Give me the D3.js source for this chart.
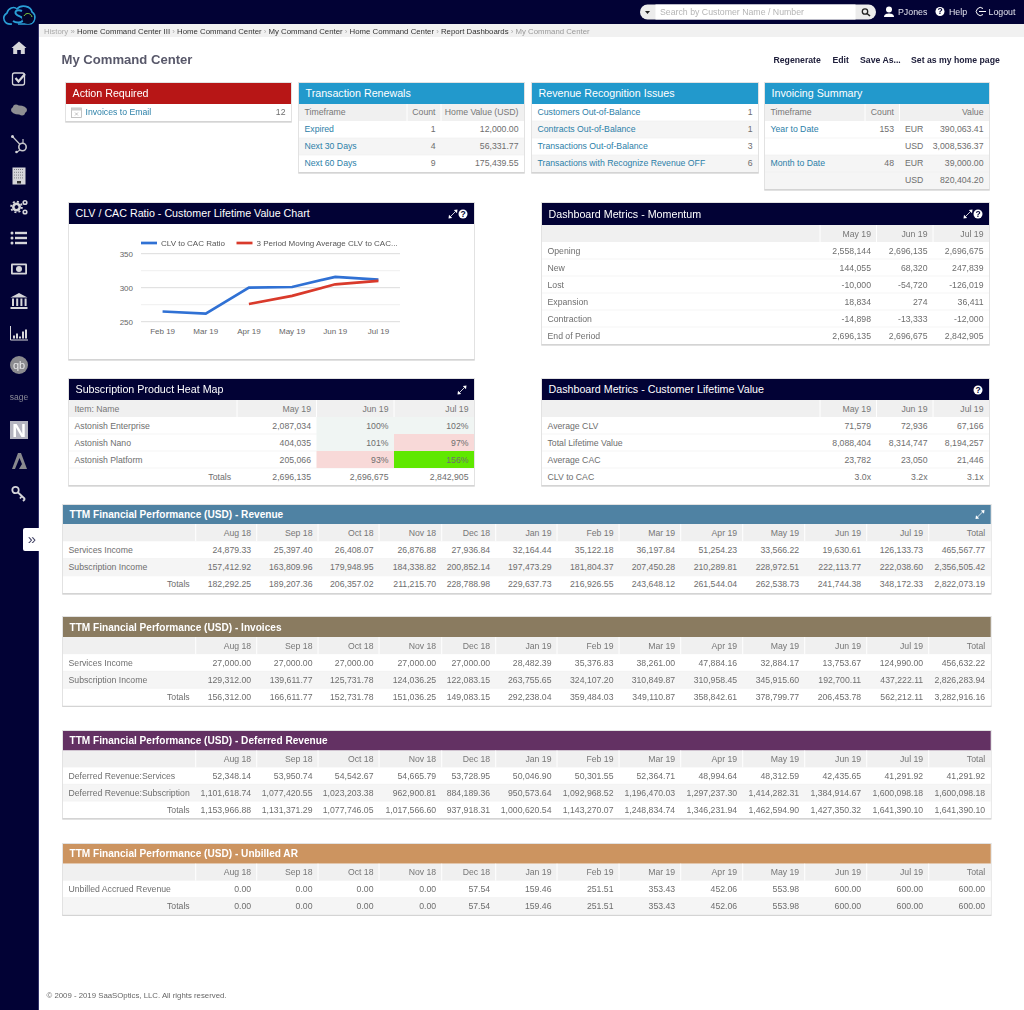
<!DOCTYPE html>
<html>
<head>
<meta charset="utf-8">
<title>My Command Center</title>
<script src="https://d3js.org/d3.v7.min.js"></script>
<style>
html, body { margin: 0; padding: 0; background: #fff; }
svg { display: block; font-family: "Liberation Sans", Arial, sans-serif; filter: blur(0.35px); }
</style>
</head>
<body>
<div id="page"></div>
<script>
// ---- data ----
var breadcrumb = ["Home Command Center III", "Home Command Center", "My Command Center", "Home Command Center", "Report Dashboards"];
var pageActions = ["Regenerate", "Edit", "Save As...", "Set as my home page"];

var renewalRows = ["Expired", "Next 30 Days", "Next 60 Days"];
var renewalCounts = [1, 4, 9];
var renewalValues = [12000.00, 56331.77, 175439.55];

var issueRows = ["Customers Out-of-Balance", "Contracts Out-of-Balance", "Transactions Out-of-Balance", "Transactions with Recognize Revenue OFF"];
var issueCounts = [1, 1, 3, 6];

var invoicingRows = ["Year to Date", "", "Month to Date", ""];
var invoicingCounts = [153, null, 48, null];
var invoicingCurrency = ["EUR", "USD", "EUR", "USD"];
var invoicingValues = [390063.41, 3008536.37, 39000.00, 820404.20];

var chartMonths = ["Feb 19", "Mar 19", "Apr 19", "May 19", "Jun 19", "Jul 19"];
var clvRatio = [265, 262, 300, 301, 316, 312];
var clvMoving = [null, null, 276, 288, 305, 310];
var chartLabels = ["CLV to CAC Ratio", "3 Period Moving Average CLV to CAC..."];
var chartTicks = [250, 300, 350];
var chartGrid = [250, 275, 300, 325, 350];

var quarter = ["May 19", "Jun 19", "Jul 19"];
var momentumRows = ["Opening", "New", "Lost", "Expansion", "Contraction", "End of Period"];
var momentumMay = [2558144, 144055, -10000, 18834, -14898, 2696135];
var momentumJun = [2696135, 68320, -54720, 274, -13333, 2696675];
var momentumJul = [2696675, 247839, -126019, 36411, -12000, 2842905];

var heatRows = ["Astonish Enterprise", "Astonish Nano", "Astonish Platform", "Totals"];
var heatMay = [2087034, 404035, 205066, 2696135];
var heatJunPct = [100, 101, 93];
var heatJulPct = [102, 97, 156];
var heatTotals = [2696675, 2842905];

var lifetimeRows = ["Average CLV", "Total Lifetime Value", "Average CAC", "CLV to CAC"];
var lifetimeMay = ["71,579", "8,088,404", "23,782", "3.0x"];
var lifetimeJun = ["72,936", "8,314,747", "23,050", "3.2x"];
var lifetimeJul = ["67,166", "8,194,257", "21,446", "3.1x"];

var ttmColumns = ["Aug 18", "Sep 18", "Oct 18", "Nov 18", "Dec 18", "Jan 19", "Feb 19", "Mar 19", "Apr 19", "May 19", "Jun 19", "Jul 19", "Total"];

var revenueServices = [24879.33, 25397.40, 26408.07, 26876.88, 27936.84, 32164.44, 35122.18, 36197.84, 51254.23, 33566.22, 19630.61, 126133.73, 465567.77];
var revenueSubscription = [157412.92, 163809.96, 179948.95, 184338.82, 200852.14, 197473.29, 181804.37, 207450.28, 210289.81, 228972.51, 222113.77, 222038.60, 2356505.42];
var revenueTotals = [182292.25, 189207.36, 206357.02, 211215.70, 228788.98, 229637.73, 216926.55, 243648.12, 261544.04, 262538.73, 241744.38, 348172.33, 2822073.19];

var invoiceServices = [27000, 27000, 27000, 27000, 27000, 28482.39, 35376.83, 38261.00, 47884.16, 32884.17, 13753.67, 124990.00, 456632.22];
var invoiceSubscription = [129312.00, 139611.77, 125731.78, 124036.25, 122083.15, 263755.65, 324107.20, 310849.87, 310958.45, 345915.60, 192700.11, 437222.11, 2826283.94];
var invoiceTotals = [156312.00, 166611.77, 152731.78, 151036.25, 149083.15, 292238.04, 359484.03, 349110.87, 358842.61, 378799.77, 206453.78, 562212.11, 3282916.16];

var deferredServices = [52348.14, 53950.74, 54542.67, 54665.79, 53728.95, 50046.90, 50301.55, 52364.71, 48994.64, 48312.59, 42435.65, 41291.92, 41291.92];
var deferredSubscription = [1101618.74, 1077420.55, 1023203.38, 962900.81, 884189.36, 950573.64, 1092968.52, 1196470.03, 1297237.30, 1414282.31, 1384914.67, 1600098.18, 1600098.18];
var deferredTotals = [1153966.88, 1131371.29, 1077746.05, 1017566.60, 937918.31, 1000620.54, 1143270.07, 1248834.74, 1346231.94, 1462594.90, 1427350.32, 1641390.10, 1641390.10];

var unbilledAccrued = [0, 0, 0, 0, 57.54, 159.46, 251.51, 353.43, 452.06, 553.98, 600, 600, 600];
var unbilledTotals = [0, 0, 0, 0, 57.54, 159.46, 251.51, 353.43, 452.06, 553.98, 600, 600, 600];

// ---- look ----
var navy = "#020235", blue = "#2299cc", red = "#b71616";
var textGray = "#6e6e6e", linkBlue = "#2c80a8", stripe = "#f5f5f5", headBg = "#f0f0f0";
var cellSize = 8.7;

var locale = d3.formatLocale({decimal: ".", thousands: ",", grouping: [3], currency: ["$", ""], minus: "-"});
var money = locale.format(",.2f");
var whole = locale.format(",d");
var pct = d => d + "%";

var svg = d3.select("#page").append("svg").attr("width", 1024).attr("height", 1010);
var page = svg.append("g");

function label(g, x, y, str, size, color, anchor, weight) {
	return g.append("text")
		.attr("x", x).attr("y", y).attr("dy", "0.35em")
		.attr("font-size", size)
		.attr("fill", color)
		.attr("text-anchor", anchor || "start")
		.attr("font-weight", weight || "normal")
		.text(str);
}

function expandIcon(g, cx, cy) {
	var a = g.append("g").attr("transform", `translate(${cx},${cy})`);
	a.append("path").attr("stroke", "#fff").attr("stroke-width", 0.8).attr("d", "M-2.5,2.5L2.5,-2.5");
	a.append("path").attr("fill", "#fff").attr("d", "M4.5,-4.5L0.8,-4L4,-0.8ZM-4.5,4.5L-0.8,4L-4,0.8Z");
}

function helpIcon(g, cx, cy) {
	g.append("circle").attr("cx", cx).attr("cy", cy).attr("r", 4.5).attr("fill", "#fff");
	label(g, cx, cy, "?", 8.5, navy, "middle", "bold");
}

// header band plus outer frame of one panel
function panel(x0, x1, y0, y1, y2, color, title, size, weight) {
	var g = page.append("g");
	g.append("rect").attr("x", x0 - 0.5).attr("y", y0 - 0.5).attr("width", x1 - x0 + 1).attr("height", y2 - y0 + 1.5)
		.attr("fill", "#fff").attr("stroke", "#e2e2e2");
	g.append("line").attr("x1", x0 - 0.5).attr("x2", x1 + 0.5).attr("y1", y2 + 0.7).attr("y2", y2 + 0.7)
		.attr("stroke", "#d4d4d4").attr("stroke-width", 1.4);
	g.append("rect").attr("x", x0).attr("y", y0).attr("width", x1 - x0).attr("height", y1 - y0).attr("fill", color);
	label(g, x0 + 6.5, (y0 + y1) / 2, title, size || 10.7, "#fff", "start", weight);
	return g;
}

// o: edges, top, bottom, head, rows, aligns, links, striped, noSep, leftPad, textShift
function table(g, o) {
	var rowCount = o.rows.length + (o.head ? 1 : 0);
	var rowY = d3.scaleLinear().domain([0, rowCount]).range([o.top, o.bottom]);
	var colX = i => o.edges[i];
	var first = o.head ? 1 : 0;
	var pad = 5.5;
	var shift = o.textShift || 0;

	g.selectAll(null).data(o.rows).join("rect")
		.attr("x", o.edges[0]).attr("width", o.edges[o.edges.length - 1] - o.edges[0])
		.attr("y", (d, i) => rowY(i + first)).attr("height", (d, i) => rowY(i + first + 1) - rowY(i + first))
		.attr("fill", (d, i) => o.striped && o.striped(i) ? stripe : "#fff");

	g.selectAll(null).data(o.rows.slice(1)).join("line")
		.attr("x1", o.edges[0]).attr("x2", o.edges[o.edges.length - 1])
		.attr("y1", (d, i) => rowY(i + first + 1)).attr("y2", (d, i) => rowY(i + first + 1))
		.attr("stroke", "#f0f0f0").attr("stroke-width", 0.7);

	if (o.fills) {
		o.fills.forEach(f => g.append("rect")
			.attr("x", colX(f.col)).attr("width", colX(f.col + 1) - colX(f.col))
			.attr("y", rowY(f.row + first)).attr("height", rowY(f.row + first + 1) - rowY(f.row + first))
			.attr("fill", f.color));
	}

	function cell(str, c, y, color) {
		if (str === null || str === "") return;
		var align = o.aligns ? o.aligns[c] : (c == 0 ? "l" : "r");
		if (align == "l") label(g, colX(c) + (c == 0 && o.leftPad ? o.leftPad : 5.5), y + shift, str, cellSize, color);
		else label(g, colX(c + 1) - pad, y + shift, str, cellSize, color, "end");
	}

	if (o.head) {
		g.append("rect").attr("x", o.edges[0]).attr("y", rowY(0))
			.attr("width", o.edges[o.edges.length - 1] - o.edges[0]).attr("height", rowY(1) - rowY(0))
			.attr("fill", headBg);
		o.edges.slice(1, -1).forEach(e => {
			if (o.noSep && o.noSep.includes(e)) return;
			g.append("line").attr("x1", e).attr("x2", e).attr("y1", rowY(0)).attr("y2", rowY(1))
				.attr("stroke", "#fff").attr("stroke-width", 1);
		});
		o.head.forEach((h, c) => cell(h, c, (rowY(0) + rowY(1)) / 2, "#777"));
	}

	o.rows.forEach((row, r) => {
		var y = (rowY(r + first) + rowY(r + first + 1)) / 2;
		row.forEach((v, c) => {
			if (c == 0 && v == "Totals") {
				label(g, colX(1) - 6, y + shift, v, cellSize, textGray, "end");
			} else {
				cell(v, c, y, o.links && c == 0 ? linkBlue : textGray);
			}
		});
	});
}

// ---- chrome ----
page.append("rect").attr("width", 1024).attr("height", 24).attr("fill", navy);
page.append("rect").attr("width", 38.5).attr("height", 1010).attr("fill", navy);
page.append("rect").attr("x", 38.5).attr("y", 24).attr("width", 985.5).attr("height", 13).attr("fill", "#f1f1f1");
page.append("line").attr("x1", 38.5).attr("x2", 38.5).attr("y1", 24).attr("y2", 1010).attr("stroke", "#33336a");

var crumb = page.append("text").attr("x", 44).attr("y", 31).attr("dy", "0.35em").attr("font-size", 7.8).attr("fill", "#333");
crumb.append("tspan").attr("fill", "#aaa").text("History ");
crumb.append("tspan").attr("fill", "#aaa").text("» ");
breadcrumb.forEach(b => {
	crumb.append("tspan").text(b);
	crumb.append("tspan").attr("fill", "#aaa").text(" › ");
});
crumb.append("tspan").attr("fill", "#999").text("My Command Center");

// logo
var logo = page.append("g").attr("fill", "none").attr("stroke", "#2a9fd6").attr("stroke-width", 1.6);
logo.append("path").attr("d", "M12,24 C4,25 1,17 7,13 C8,8 14,6 17,9 C21,4 31,6 32,12 C37,15 35,24 29,24 L18,24");
logo.append("path").attr("d", "M22,11 C18,9 14,11 16,14 C18,17 24,16 23,20 C22,23 16,23 13,21").attr("stroke-width", 2);
logo.append("circle").attr("cx", 28).attr("cy", 18).attr("r", 6).attr("fill", "#05052a").attr("stroke", "none");
logo.append("path").attr("d", "M24,16 C26,12 31,13 32,17").attr("stroke", "#7fd040").attr("stroke-width", 1);

// search box
var search = page.append("g");
search.append("rect").attr("x", 640).attr("y", 4.5).attr("width", 236).attr("height", 15).attr("rx", 7.5).attr("fill", "#ececec");
search.append("rect").attr("x", 655.5).attr("y", 4.5).attr("width", 200).attr("height", 15).attr("fill", "#fff");
search.append("path").attr("fill", "#222").attr("d", "M645,11L650,11L647.5,14Z");
label(search, 660, 12.3, "Search by Customer Name / Number", 8.75, "#b5b5b5");
search.append("circle").attr("cx", 865).attr("cy", 11.5).attr("r", 2.7).attr("fill", "none").attr("stroke", "#222").attr("stroke-width", 1.3);
search.append("path").attr("stroke", "#222").attr("stroke-width", 1.6).attr("d", "M867,13.5L870,16");

var user = page.append("g");
user.append("circle").attr("cx", 889).attr("cy", 9.5).attr("r", 3).attr("fill", "#fff");
user.append("path").attr("fill", "#fff").attr("d", "M884,17L894,17C894,14 891,13.5 889,13.5C887,13.5 884,14 884,17Z");
label(user, 898, 11.5, "PJones", 8.8, "#e4e4ee");
helpIcon(user, 940, 11.5);
label(user, 949, 11.5, "Help", 8.8, "#e4e4ee");
user.append("path").attr("fill", "none").attr("stroke", "#fff").attr("stroke-width", 1)
	.attr("d", "M983,8.5A4,4 0 1 0 983,14.5M979,11.5L986,11.5");
label(user, 988.5, 11.5, "Logout", 8.8, "#e4e4ee");

label(page, 61.5, 59.5, "My Command Center", 13.1, "#58586a", "start", "bold");
var actionX = d3.scaleOrdinal().domain(pageActions).range([773.5, 832.5, 860, 911]);
pageActions.forEach(a => label(page, actionX(a), 59.5, a, 8.7, "#20203c", "start", "bold"));

// ---- sidebar icons ----
var side = page.append("g").attr("fill", "#d6d6da");
function icon(y) { return side.append("g").attr("transform", `translate(19,${y})`); }

icon(48).append("path").attr("d", "M-7.5,0L0,-6.5L7.5,0L5.8,0L5.8,6L1.8,6L1.8,2L-1.8,2L-1.8,6L-5.8,6L-5.8,0Z");
var chk = icon(79);
chk.append("rect").attr("x", -6.5).attr("y", -6).attr("width", 12).attr("height", 12).attr("rx", 2).attr("fill", "none").attr("stroke", "#d6d6da").attr("stroke-width", 1.3);
chk.append("path").attr("fill", "none").attr("stroke", "#d6d6da").attr("stroke-width", 2.2).attr("d", "M-3.5,-1L-0.5,2.5L6,-5");
var sf = icon(110).attr("fill", "#8f8f93");
sf.append("ellipse").attr("rx", 8).attr("ry", 4.5);
sf.append("circle").attr("cx", -3).attr("cy", -2.5).attr("r", 3);
sf.append("circle").attr("cx", 3).attr("cy", 2.5).attr("r", 3);
var hub = icon(145);
hub.append("circle").attr("cx", 3.5).attr("cy", 2).attr("r", 3.7).attr("fill", "none").attr("stroke", "#c6c6ca").attr("stroke-width", 1.6);
hub.append("path").attr("fill", "none").attr("stroke", "#c6c6ca").attr("stroke-width", 1.2).attr("d", "M1,-0.5L-6,-8M1,5L-2,7M4,-2L4,-6");
hub.append("circle").attr("cx", -6.5).attr("cy", -8.5).attr("r", 1.5);
hub.append("circle").attr("cx", -2.5).attr("cy", 7).attr("r", 1.3);
var bld = icon(176);
bld.append("rect").attr("x", -6.5).attr("y", -8.5).attr("width", 13).attr("height", 17);
bld.selectAll(null).data(d3.range(4)).join("line")
	.attr("x1", -5).attr("x2", 5).attr("y1", d => -6.5 + d * 2.8).attr("y2", d => -6.5 + d * 2.8)
	.attr("stroke", "#808086").attr("stroke-width", 1).attr("stroke-dasharray", "1 1");
bld.append("rect").attr("x", -2).attr("y", 5).attr("width", 4).attr("height", 2.5).attr("fill", "#333");
var gr = icon(207).attr("fill", "none").attr("stroke", "#d6d6da");
gr.append("circle").attr("cx", -2.5).attr("cy", 0).attr("r", 3.2).attr("stroke-width", 2.6);
gr.append("circle").attr("cx", -2.5).attr("cy", 0).attr("r", 5.4).attr("stroke-width", 1.8).attr("stroke-dasharray", "2 2.2");
gr.append("circle").attr("cx", 6).attr("cy", -4.5).attr("r", 1.8).attr("stroke-width", 1.6);
gr.append("circle").attr("cx", 6).attr("cy", 5).attr("r", 1.8).attr("stroke-width", 1.6);
var lst = icon(238);
d3.range(3).forEach(i => {
	lst.append("circle").attr("cx", -7).attr("cy", -5 + i * 5).attr("r", 1.5);
	lst.append("rect").attr("x", -4).attr("y", -6.2 + i * 5).attr("width", 12).attr("height", 2.4);
});
var bill = icon(269);
bill.append("rect").attr("x", -8).attr("y", -5.5).attr("width", 16).attr("height", 11).attr("rx", 1);
bill.append("rect").attr("x", -6.2).attr("y", -3.7).attr("width", 12.4).attr("height", 7.4).attr("fill", navy);
bill.append("circle").attr("r", 3).attr("fill", "#d6d6da");
var bank = icon(301);
bank.append("path").attr("d", "M-8.5,-3.5L0,-8L8.5,-3.5Z");
d3.range(4).forEach(i => bank.append("rect").attr("x", -7 + i * 4.2).attr("y", -2.5).attr("width", 2).attr("height", 7.5));
bank.append("rect").attr("x", -8.5).attr("y", 6).attr("width", 17).attr("height", 2);
var bars = icon(333);
bars.append("path").attr("fill", "none").attr("stroke", "#d6d6da").attr("d", "M-8.5,-7L-8.5,7L9,7");
[[-6, 3], [-3, 5], [0, 2], [3, 7], [6, 9]].forEach(b => bars.append("rect").attr("x", b[0]).attr("y", 5.5 - b[1]).attr("width", 2).attr("height", b[1]));
var qb = icon(365);
qb.append("circle").attr("r", 9).attr("fill", "#8b8b8f");
label(qb, 0, 0, "qb", 11, "#e8e8ea", "middle");
label(icon(397), 0, 0, "sage", 8.5, "#8a8a96", "middle");
var nBox = icon(430);
nBox.append("rect").attr("x", -9).attr("y", -9).attr("width", 18).attr("height", 18).attr("fill", "#b4b4c0");
label(nBox, 0, 0.5, "N", 19, "#fff", "middle", "bold");
icon(461).attr("fill", "#8a8a8e").append("path").attr("d", "M-7,8L-1,-8L2,-8L8,8L5,8L0.5,-3L-4,8ZM0,8L3,3L5,8Z");
var key = icon(493);
key.append("circle").attr("cx", -3.5).attr("cy", -3).attr("r", 3.2).attr("fill", "none").attr("stroke", "#d6d6da").attr("stroke-width", 1.8);
key.append("path").attr("fill", "none").attr("stroke", "#d6d6da").attr("stroke-width", 1.8).attr("d", "M-1,-0.5L6,6M3,3L1,5.5M6,6L4,8");
page.append("path").attr("fill", "#fff").attr("d", "M39,528L25,528Q23,528 23,530L23,549Q23,551 25,551L39,551Z");
label(page, 32, 539, "»", 15, "#444466", "middle");

// ---- top row ----
var action = panel(66, 291, 83, 104, 121, red, "Action Required");
table(action, {
	edges: [66, 200, 291], top: 104, bottom: 121, textShift: -0.8,
	rows: [["Invoices to Email", "12"]], links: true, leftPad: 19.5
});
var cal = action.append("g").attr("transform", "translate(76.5,112.5)");
cal.append("rect").attr("x", -5).attr("y", -4.5).attr("width", 10).attr("height", 9.5).attr("fill", "#fff").attr("stroke", "#aaa").attr("stroke-width", 0.7);
cal.append("rect").attr("x", -5).attr("y", -4.5).attr("width", 10).attr("height", 2.5).attr("fill", "#ccc");
cal.append("path").attr("stroke", "#999").attr("stroke-width", 0.6).attr("d", "M-1.5,0L1.5,3M1.5,0L-1.5,3");

var renewals = panel(299, 524, 83, 104, 172, blue, "Transaction Renewals");
table(renewals, {
	edges: [299, 407, 441, 524], top: 104, bottom: 172, textShift: -0.8,
	head: ["Timeframe", "Count", "Home Value (USD)"],
	rows: renewalRows.map((r, i) => [r, whole(renewalCounts[i]), money(renewalValues[i])]),
	links: true, striped: i => i == 1
});

var issues = panel(532, 758, 83, 104, 172, blue, "Revenue Recognition Issues");
table(issues, {
	edges: [532, 700, 758], top: 104, bottom: 172, textShift: -0.8,
	rows: issueRows.map((r, i) => [r, whole(issueCounts[i])]),
	links: true, striped: i => i % 2 == 1
});

var invoicing = panel(765, 989, 83, 104, 189, blue, "Invoicing Summary");
table(invoicing, {
	edges: [765, 865, 899.5, 930, 989], top: 104, bottom: 189, textShift: -0.8,
	head: ["Timeframe", "Count", "", "Value"],
	aligns: ["l", "r", "l", "r"], noSep: [930],
	rows: invoicingRows.map((r, i) => [r, invoicingCounts[i] === null ? "" : whole(invoicingCounts[i]), invoicingCurrency[i], money(invoicingValues[i])]),
	links: true, striped: i => i >= 2
});

// ---- line chart ----
var clv = panel(69, 474, 203, 224, 359, navy, "CLV / CAC Ratio - Customer Lifetime Value Chart");
expandIcon(clv, 453, 214);
helpIcon(clv, 463, 214);

var x = d3.scaleBand().domain(chartMonths).range([141, 400]);
var y = d3.scaleLinear().domain([250, 350]).range([321.7, 253.7]);

clv.append("g").selectAll("line").data(chartGrid).join("line")
	.attr("x1", 141).attr("x2", 400)
	.attr("y1", d => y(d)).attr("y2", d => y(d))
	.attr("stroke", d => chartTicks.includes(d) ? "#dcdcdc" : "#efefef");

var yAxis = clv.append("g").attr("transform", "translate(141,0)")
	.call(d3.axisLeft(y).tickValues(chartTicks).tickSize(0).tickPadding(8));
var xAxis = clv.append("g").attr("transform", "translate(0,321.7)")
	.call(d3.axisBottom(x).tickSize(0).tickPadding(6.5));
[yAxis, xAxis].forEach(a => {
	a.select(".domain").remove();
	a.selectAll("text").attr("font-size", 8).attr("font-family", "inherit").attr("fill", "#666");
});

var line = d3.line()
	.defined(d => d !== null)
	.x((d, i) => x(chartMonths[i]) + x.bandwidth() / 2)
	.y(d => y(d));
var seriesColor = ["#3071d4", "#d93a2b"];
[clvRatio, clvMoving].forEach((s, i) => clv.append("path")
	.attr("d", line(s)).attr("fill", "none").attr("stroke", seriesColor[i]).attr("stroke-width", 2.7));

var legendX = d3.scaleOrdinal().domain(chartLabels).range([141, 236.5]);
chartLabels.forEach((t, i) => {
	clv.append("line").attr("x1", legendX(t)).attr("x2", legendX(t) + 16).attr("y1", 243).attr("y2", 243)
		.attr("stroke", seriesColor[i]).attr("stroke-width", 2.7);
	label(clv, legendX(t) + 20, 243, t, 8, "#555");
});

// ---- metrics ----
var momentum = panel(542, 989, 203, 225, 344, navy, "Dashboard Metrics - Momentum");
expandIcon(momentum, 968, 214);
helpIcon(momentum, 978, 214);
table(momentum, {
	edges: [542, 820, 876.5, 933, 989], top: 225, bottom: 344,
	head: ["", ...quarter],
	rows: momentumRows.map((r, i) => [r, whole(momentumMay[i]), whole(momentumJun[i]), whole(momentumJul[i])])
});

var heat = panel(69, 474, 379, 400, 485, navy, "Subscription Product Heat Map");
expandIcon(heat, 462, 390);
var heatColor = v => v > 120 ? "#5fe800" : v < 100 ? "#f8d9d8" : "#f0f5f3";
var heatFills = [];
heatJunPct.forEach((v, r) => heatFills.push({row: r, col: 2, color: heatColor(v)}));
heatJulPct.forEach((v, r) => heatFills.push({row: r, col: 3, color: heatColor(v)}));
table(heat, {
	edges: [69, 237, 316.5, 394, 474], top: 400, bottom: 485,
	head: ["Item: Name", ...quarter],
	fills: heatFills,
	rows: heatRows.map((r, i) => i < 3
		? [r, whole(heatMay[i]), pct(heatJunPct[i]), pct(heatJulPct[i])]
		: [r, whole(heatMay[i]), whole(heatTotals[0]), whole(heatTotals[1])])
});

var lifetime = panel(542, 989, 379, 400, 485, navy, "Dashboard Metrics - Customer Lifetime Value");
helpIcon(lifetime, 978, 390);
table(lifetime, {
	edges: [542, 820, 876.5, 933, 989], top: 400, bottom: 485,
	head: ["", ...quarter],
	rows: lifetimeRows.map((r, i) => [r, lifetimeMay[i], lifetimeJun[i], lifetimeJul[i]])
});

// ---- TTM tables ----
var ttmEdges = [63, 195.7, 256.7, 318, 379, 441.7, 495.7, 557, 619, 680.7, 742.7, 804.7, 866.7, 928.7, 990.7];

function ttm(top, headBottom, bottom, color, title, names, series, striped) {
	var g = panel(63, 990.7, top, headBottom, bottom, color, title, 10.1, "bold");
	table(g, {
		edges: ttmEdges, top: headBottom, bottom: bottom,
		head: ["", ...ttmColumns],
		rows: names.map((n, i) => [n, ...series[i].map(money)]),
		striped: striped
	});
	return g;
}

var revenue = ttm(505, 524, 593, "#4f82a3", "TTM Financial Performance (USD) - Revenue",
	["Services Income", "Subscription Income", "Totals"],
	[revenueServices, revenueSubscription, revenueTotals], i => i == 1);
expandIcon(revenue, 980, 514.5);

ttm(617, 637, 705.5, "#8a7b60", "TTM Financial Performance (USD) - Invoices",
	["Services Income", "Subscription Income", "Totals"],
	[invoiceServices, invoiceSubscription, invoiceTotals], i => i == 1);

ttm(731, 750.5, 818, "#633163", "TTM Financial Performance (USD) - Deferred Revenue",
	["Deferred Revenue:Services", "Deferred Revenue:Subscription", "Totals"],
	[deferredServices, deferredSubscription, deferredTotals], i => i == 1);

ttm(844, 863.7, 914.5, "#cc9460", "TTM Financial Performance (USD) - Unbilled AR",
	["Unbilled Accrued Revenue", "Totals"],
	[unbilledAccrued, unbilledTotals], i => i == 1);

label(page, 46.5, 995, "© 2009 - 2019 SaaSOptics, LLC. All rights reserved.", 7.8, "#666");
</script>
</body>
</html>
